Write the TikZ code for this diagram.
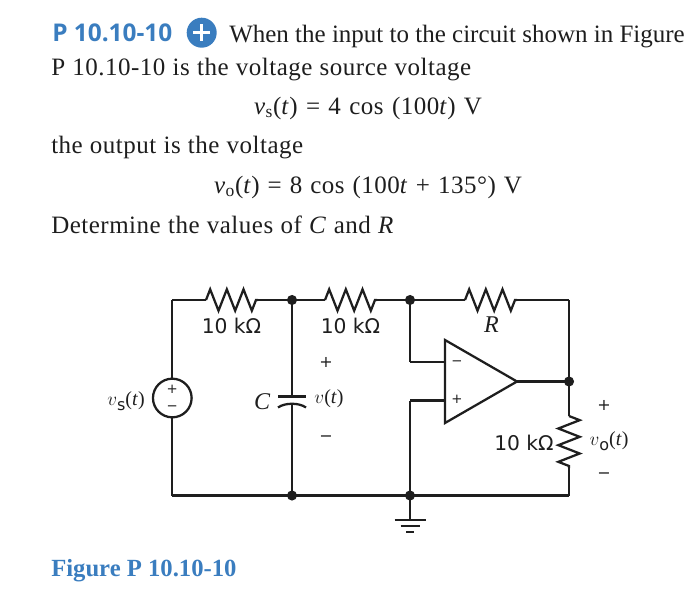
\documentclass[tikz,border=0pt]{standalone}
\usepackage{amsmath}
\usepackage{fontspec}
\setmainfont{Liberation Serif}
\newfontfamily\widefont[LetterSpace=2]{Liberation Serif}
\newfontfamily\headfont{Open Sans}
\newfontfamily\circfont{DejaVu Sans}
\usetikzlibrary{decorations.pathmorphing}
\definecolor{headblue}{HTML}{3A7DBF}
\definecolor{inkgray}{HTML}{1E1E1E}
\tikzset{
	wire/.style={line width=1.7pt,color=inkgray},
	resistor/.style={wire,decorate,decoration={zigzag,segment length=12.5pt,amplitude=8pt}},
	body/.style={anchor=base west,inner sep=0pt,font=\fontsize{18.75}{20}\selectfont,color=inkgray},
	wide/.style={anchor=base west,inner sep=0pt,font=\widefont\fontsize{18.75}{20}\selectfont,color=inkgray},
	eqn/.style={anchor=base,inner sep=0pt,font=\widefont\fontsize{18.75}{20}\selectfont,color=inkgray},
	circ/.style={inner sep=0pt,font=\circfont\fontsize{15.2}{16}\selectfont,color=inkgray},
	sign/.style={inner sep=0pt,font=\circfont\fontsize{12}{14}\selectfont,color=inkgray},
	tiny/.style={inner sep=0pt,font=\circfont\fontsize{10}{10}\selectfont,color=inkgray},
	mathlab/.style={inner sep=0pt,font=\fontsize{15}{16}\selectfont,color=inkgray},
	partlab/.style={inner sep=0pt,font=\fontsize{18}{20}\selectfont\itshape,color=inkgray},
}
\begin{document}
\begin{tikzpicture}[x=0.75pt,y=-0.75pt]
		\useasboundingbox (0,0) rectangle (684,592);
		% text
		\node[anchor=base west,inner sep=0pt,font=\headfont\bfseries\fontsize{18.3}{20}\selectfont,color=headblue] (head) at (52,42) {P 10.10-10};
		\node[circle,fill=headblue,minimum size=22.5pt,inner sep=0pt] (plus) at (201.7,32.7) {};
		\draw[white,line width=2.4pt] (plus.center) ++(-8.5,0) -- ++(17,0);
		\draw[white,line width=2.4pt] (plus.center) ++(0,-8.5) -- ++(0,17);
		\node[body] (line1) at (229,43) {When the input to the circuit shown in Figure};
		\node[wide] (line2) at (51,75) {\makebox[315pt][s]{P 10.10-10 is the voltage source voltage}};
		\node[eqn] (eq1) at (368,114) {\makebox[171pt][s]{\textit{v}\textsubscript{s}(\textit{t}) = 4 cos (100\textit{t}) V}};
		\node[wide] (line3) at (51,153.5) {\makebox[189pt][s]{the output is the voltage}};
		\node[eqn] (eq2) at (368,193) {\makebox[231pt][s]{\textit{v}\textsubscript{o}(\textit{t}) = 8 cos (100\textit{t} + 135°) V}};
		\node[wide] (line4) at (51,233) {\makebox[257pt][s]{Determine the values of \textit{C} and \textit{R}}};
		\node[anchor=base west,inner sep=0pt,font=\bfseries\fontsize{18.5}{20}\selectfont,color=headblue] (caption) at (51,576) {Figure P 10.10-10};

		% circuit
		\coordinate (A) at (172.3,300);
		\coordinate (B) at (292,300);
		\coordinate (C) at (410,300);
		\coordinate (D) at (569,300);
		\coordinate (E) at (172.3,495.5);
		\coordinate (F) at (292,495.5);
		\coordinate (G) at (410,495.5);
		\coordinate (H) at (569,495.5);
		\coordinate (J) at (569,381.5);
		\coordinate (R1a) at (206,300);
		\coordinate (R1b) at (258,300);
		\coordinate (R2a) at (325,300);
		\coordinate (R2b) at (377,300);
		\coordinate (R3a) at (465,300);
		\coordinate (R3b) at (517,300);
		\coordinate (R4a) at (569,416);
		\coordinate (R4b) at (569,468);
		\coordinate (P) at (445,340);
		\coordinate (Q) at (445,423);
		\coordinate (S) at (517,381.5);
		\coordinate (Im) at (445,362);
		\coordinate (Ip) at (445,400.5);
		\coordinate (Cm) at (410,362);
		\coordinate (Cp) at (410,400.5);
		\coordinate (Ca) at (292,396.5);
		\coordinate (Cb) at (292,403.5);
		\coordinate (T) at (410,520);

		\node[circle,draw=inkgray,line width=1.7pt,minimum size=29pt,inner sep=0pt,outer sep=0pt] (vs) at (172.3,398) {};
		\foreach \s/\t in {A/R1a, R1b/B, B/R2a, R2b/C, C/R3a, R3b/D, D/J, J/R4a, R4b/H, H/E, E/vs, vs/A, B/Ca, Cb/F, S/J, G/T, Cp/Ip, C/Cm, Cm/Im, Cp/G} {
			\draw[wire] (\s) -- (\t);
		}
		\foreach \s/\t in {R1a/R1b, R2a/R2b, R3a/R3b, R4a/R4b} {
			\draw[resistor] (\s) -- (\t);
		}
		\draw[wire] (P) -- (Q) -- (S) -- cycle;
		\foreach \point in {B, C, F, G, J} {
			\fill[inkgray] (\point) circle (3.8pt);
		}
		% capacitor
		\draw[wire] (Ca) ++(-14,0) -- ++(28,0);
		\draw[wire] (Cb) ++(-14,4) .. controls (285,402.5) and (299,402.5) .. ++(28,0);
		% ground
		\draw[wire] (T) ++(-15.5,0) -- ++(31,0);
		\draw[wire] (T) ++(-9.5,6) -- ++(19,0);
		\draw[wire] (T) ++(-4,12) -- ++(8,0);

		% labels
		\node[circ] (lab1) at (231.5,326) {10 kΩ};
		\node[circ] (lab2) at (350.5,326) {10 kΩ};
		\node[partlab] (labR) at (491.5,325) {R};
		\node[circ] (lab3) at (524,442.5) {10 kΩ};
		\node[sign] (pv) at (326,362) {+};
		\node[sign] (mv) at (326,439) {−};
		\node[sign] (po) at (604,405) {+};
		\node[sign] (mo) at (604,476) {−};
		\node[tiny] (ps) at (172.3,389) {+};
		\node[tiny] (ms) at (172.3,408) {−};
		\node[tiny] (pi) at (457,399) {+};
		\node[tiny] (mi) at (457,363) {−};
		\node[partlab] (labC) at (262,402) {C};
		\node[mathlab] (labv) at (329,399) {$v$(\textit{t})};
		\node[mathlab] (labvs) at (126,401) {$v$\raisebox{-4pt}{\circfont\fontsize{12}{12}\selectfont s}(\textit{t})};
		\node[mathlab] (labvo) at (609,441) {$v$\raisebox{-4pt}{\circfont\fontsize{12}{12}\selectfont o}(\textit{t})};
\end{tikzpicture}
\end{document}
